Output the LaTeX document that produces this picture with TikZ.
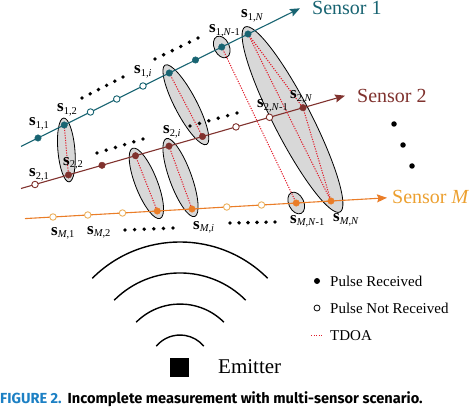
\documentclass[tikz,border=0pt]{standalone}
\usepackage{fontspec}
\setmainfont{Liberation Serif}
\newfontfamily\capfont{Fira Sans}
\usetikzlibrary{arrows.meta,shapes.geometric,calc}
\definecolor{tealc}{RGB}{24,100,114}
\definecolor{brownc}{RGB}{128,50,46}
\definecolor{orangec}{RGB}{234,125,40}
\definecolor{orangetxt}{RGB}{236,160,48}
\definecolor{orangeopen}{RGB}{236,178,96}
\definecolor{tdoared}{RGB}{225,30,45}
\definecolor{capblue}{RGB}{28,128,196}
\definecolor{ellgray}{RGB}{216,216,216}
\newcommand{\slab}[1]{\textbf{s}\raisebox{-2.5pt}{\fontsize{10.5}{10.5}\selectfont#1}}
\newcommand{\ellip}[5]{%
  \path let \p1=($(#3)-(#2)$), \n1={atan2(\y1,\x1)}, \n2={veclen(\x1,\y1)} in
    ($(#2)!0.5!(#3)$) node[ellz, rotate=\n1, minimum width={\n2+2*#4}, minimum height={2*#5}] (#1) {};}
\newcommand{\smallell}[3]{%
  \path let \p1=($(#3)-(#2)$), \n1={atan2(\y1,\x1)} in
    (#2) node[ellz, rotate=\n1, minimum width=23, minimum height=15] (#1) {};}
\tikzset{
  sline/.style={line width=1.1pt, -{Stealth[length=10pt,width=8pt,inset=1.5pt]}},
  rx/.style={circle, fill=#1, draw=#1, inner sep=0, minimum size=6.5pt},
  nx/.style={circle, fill=white, draw=#1, line width=0.9pt, inner sep=0, minimum size=6.5pt},
  ellz/.style={ellipse, draw=black, line width=0.8pt, fill=ellgray, inner sep=0},
  tdoa/.style={draw=tdoared, line width=1pt, dash pattern=on 1.2pt off 1.3pt},
  edot/.style={circle, fill=black, inner sep=0, minimum size=3.9pt},
  slabel/.style={anchor=base west, inner sep=0, font=\fontsize{17}{17}\selectfont},
  wave/.style={line width=1.4pt},
  legtxt/.style={anchor=base west, inner sep=0, font=\fontsize{15}{15}\selectfont},
}
\begin{document}
\begin{tikzpicture}[x=1pt,y=-1pt]
\useasboundingbox (0,0) rectangle (474,409);
% coordinates of pulses
\foreach \k in {0,...,8} {
  \coordinate (a\k) at ({38+26.25*\k},{138-13*\k});
  \coordinate (b\k) at ({35+33.5*\k},{184.5-9.6*\k});
  \coordinate (c\k) at ({53+34.75*\k},{217-2*\k});
}
\coordinate (t7) at (245,27);
\coordinate (u7) at (340,212);
% ellipses
\ellip{e1}{a1}{b1}{7}{8.5}
\ellip{e2}{b3}{c3}{8}{11}
\ellip{e3}{b4}{c4}{8}{11}
\ellip{e4}{a5}{b5}{9}{11}
\smallell{e5}{a7}{c7}
\smallell{e6}{c7}{a7}
\ellip{e7}{t7}{u7}{0}{19}
% sensor lines
\coordinate (st1) at (21,146.4);
\coordinate (en1) at (300,8.3);
\coordinate (st2) at (21,188.5);
\coordinate (en2) at (345,95.7);
\coordinate (st3) at (25,218.6);
\coordinate (en3) at (387,197.8);
\draw[sline, tealc] (st1) -- (en1);
\draw[sline, brownc] (st2) -- (en2);
\draw[sline, orangec] (st3) -- (en3);
% TDOA lines
\draw[tdoa] (a1) -- (b1);
\draw[tdoa] (b3) -- (c3);
\draw[tdoa] (b4) -- (c4);
\draw[tdoa] (a5) -- (b5);
\draw[tdoa] (a7) -- (c7);
\draw[tdoa] (a8) -- (b8);
\draw[tdoa] (a8) -- (c8);
\draw[tdoa] (b8) -- (c8);
% pulses
\foreach \k in {0,1,5,6,7,8} \node[rx=tealc] (pa\k) at (a\k) {};
\foreach \k in {2,3,4} \node[nx=tealc] (pa\k) at (a\k) {};
\foreach \k in {1,2,3,4,5,8} \node[rx=brownc] (pb\k) at (b\k) {};
\foreach \k in {0,6,7} \node[nx=brownc] (pb\k) at (b\k) {};
\foreach \k in {3,4,7,8} \node[rx=orangec] (pc\k) at (c\k) {};
\foreach \k in {0,1,2,5,6} \node[nx=orangeopen] (pc\k) at (c\k) {};
% ellipsis dots
\foreach \t in {0,...,5} {
  \node[edot] (dA\t) at ($(82,98)!\t/5!(123,77)$) {};
  \node[edot] (dB\t) at ($(155,59)!\t/5!(198,38)$) {};
  \node[edot] (dC\t) at ($(97,153)!\t/5!(143,139)$) {};
  \node[edot] (dD\t) at ($(190,126)!\t/5!(237,113)$) {};
  \node[edot] (dE\t) at ($(125,230)!\t/5!(173,228)$) {};
  \node[edot] (dF\t) at ($(230,223)!\t/5!(275,222)$) {};
}
\node[edot, minimum size=5.5pt] (vd1) at (394,124) {};
\node[edot, minimum size=5.5pt] (vd2) at (403,145) {};
\node[edot, minimum size=5.5pt] (vd3) at (412,166) {};
% labels
\node[slabel] (la0) at (29,126) {\slab{1,1}};
\node[slabel] (la1) at (57,112) {\slab{1,2}};
\node[slabel] (la4) at (134,74) {\slab{1,\textit{i}}};
\node[slabel] (la7) at (209,33) {\slab{1,\textit{N}-1}};
\node[slabel] (la8) at (241,18) {\slab{1,\textit{N}}};
\node[slabel] (lb0) at (29,177) {\slab{2,1}};
\node[slabel] (lb1) at (63,165) {\slab{2,2}};
\node[slabel] (lb4) at (163,134) {\slab{2,\textit{i}}};
\node[slabel] (lb7) at (257,108) {\slab{2,\textit{N}-1}};
\node[slabel] (lb8) at (290,99) {\slab{2,\textit{N}}};
\node[slabel] (lc0) at (51,235) {\slab{\textit{M},1}};
\node[slabel] (lc1) at (87,234) {\slab{\textit{M},2}};
\node[slabel] (lc4) at (193,229) {\slab{\textit{M},\textit{i}}};
\node[slabel] (lc7) at (290,223) {\slab{\textit{M},\textit{N}-1}};
\node[slabel] (lc8) at (333,222) {\slab{\textit{M},\textit{N}}};
% sensor names
\node[anchor=base west, inner sep=0, text=tealc, font=\fontsize{20}{20}\selectfont] (sn1) at (312,15) {Sensor 1};
\node[anchor=base west, inner sep=0, text=brownc, font=\fontsize{20}{20}\selectfont] (sn2) at (357,103) {Sensor 2};
\node[anchor=base west, inner sep=0, text=orangetxt, font=\fontsize{20}{20}\selectfont] (sn3) at (392,203) {Sensor \textit{M}};
% emitter and waves
\coordinate (wc) at (180,366);
\draw[wave] ($(wc)+(-23.7,-19.9)$) arc[start angle=140, end angle=40, radius=31pt];
\draw[wave] ($(wc)+(-43.8,-43.8)$) arc[start angle=135, end angle=45, radius=62pt];
\draw[wave] ($(wc)+(-65.8,-65.8)$) arc[start angle=135, end angle=45, radius=93pt];
\draw[wave] ($(wc)+(-87.7,-87.7)$) arc[start angle=135, end angle=45, radius=124pt];
\node[fill=black, minimum size=19pt, inner sep=0] (emsq) at (179.5,367.5) {};
\node[anchor=base west, inner sep=0, font=\fontsize{21}{21}\selectfont] (emt) at (218,373) {Emitter};
% legend
\node[circle, fill=black, minimum size=6pt, inner sep=0] (lg1) at (317,281) {};
\node[legtxt] (lt1) at (330,286) {Pulse Received};
\node[circle, draw=black, fill=white, line width=0.8pt, minimum size=6pt, inner sep=0] (lg2) at (317,308) {};
\node[legtxt] (lt2) at (330,313) {Pulse Not Received};
\coordinate (lg3a) at (311,335);
\coordinate (lg3b) at (323,335);
\draw[tdoa] (lg3a) -- (lg3b);
\node[legtxt] (lt3) at (330,340) {TDOA};
% caption
\node[anchor=base west, inner sep=0, font=\capfont\bfseries\fontsize{14.6}{14.6}\selectfont] (cap) at (0,403)
  {\textcolor{capblue}{FIGURE 2.}\hspace{6pt}Incomplete measurement with multi-sensor scenario.};
\end{tikzpicture}
\end{document}
